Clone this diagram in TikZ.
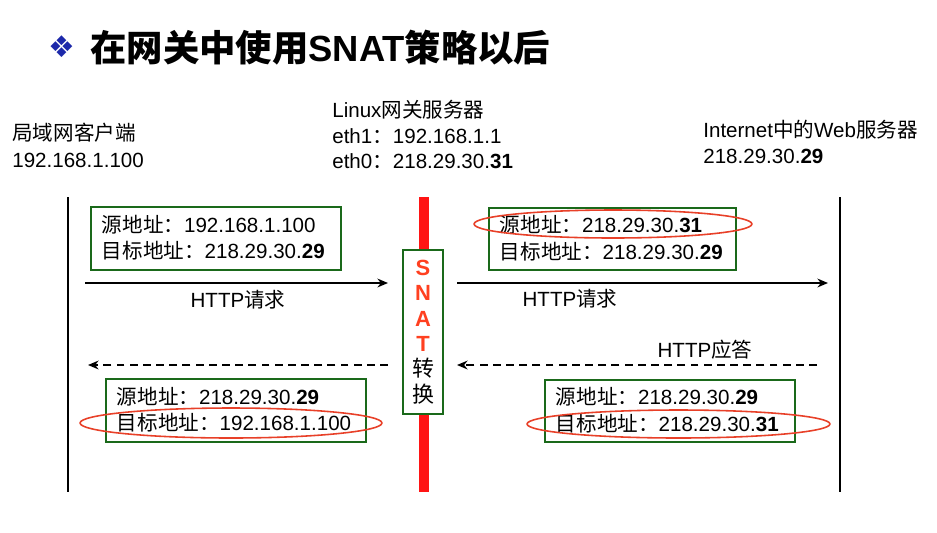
\documentclass[tikz,border=0pt]{standalone}
\usepackage{fontspec}
\setmainfont{Liberation Sans}
\newfontfamily\cjk{Noto Sans CJK SC}
\newfontfamily\dingfont{DejaVu Sans}
\usetikzlibrary{calc,positioning,arrows.meta}
\definecolor{gwgreen}{RGB}{26,105,26}
\definecolor{gwred}{RGB}{255,20,20}
\definecolor{snatred}{RGB}{255,64,32}
\definecolor{markred}{RGB}{232,64,40}
\definecolor{bulletblue}{RGB}{28,40,170}
\tikzset{
  hostline/.style={draw=black,line width=1.2pt},
  gwbar/.style={draw=gwred,line width=5.7pt},
  boxline/.style={draw=gwgreen,line width=1.1pt,fill=white},
  txt/.style={font=\fontsize{11.7}{14}\selectfont,inner sep=0pt,anchor=base west},
  lbl/.style={font=\fontsize{11.7}{14}\selectfont,inner sep=0pt},
  reqline/.style={draw=black,line width=1.1pt,-{Stealth[length=6pt,width=5pt]}},
  repline/.style={reqline,dash pattern=on 4.5pt off 3pt},
  markline/.style={draw=markred,line width=0.9pt},
}
\newcommand{\zh}[1]{{\cjk #1}}
\newcommand{\sn}[1]{\textcolor{snatred}{\textbf{#1}}}
\newcommand{\abox}[6]{%
  \node[boxline,minimum width=#4,minimum height=1.25cm] (#1) at (#2,#3) {};
  \node[txt] (#1a) at ($(#1.north west)+(11.5,26)$) {#5};
  \node[txt] (#1b) at ($(#1.south west)+(11.5,-12)$) {#6};}
\begin{document}
\begin{tikzpicture}[x=0.02cm,y=-0.02cm]
  \useasboundingbox (0,0) rectangle (937,532);
  \node[font=\dingfont\fontsize{17}{17}\selectfont,text=bulletblue,inner sep=0pt] (bul) at (62,47) {❖};
  \node[font=\fontsize{20.7}{24}\selectfont\bfseries,inner sep=0pt,anchor=base west] (title) at (90,61)
    {\zh{在网关中使用}SNAT\zh{策略以后}};
  \node[txt] (lan1) at (12,140) {\zh{局域网客户端}};
  \node[txt] (lan2) at (12,167) {192.168.1.100};
  \node[txt] (gw1) at (332,117) {Linux\zh{网关服务器}};
  \node[txt] (gw2) at (332,143) {eth1\zh{：}192.168.1.1};
  \node[txt] (gw3) at (332,168) {eth0\zh{：}218.29.30.\textbf{31}};
  \node[txt] (web1) at (703,137) {Internet\zh{中的}Web\zh{服务器}};
  \node[txt] (web2) at (703,163) {218.29.30.\textbf{29}};
  \coordinate (lanT) at (68,197); \coordinate (lanB) at (68,492);
  \coordinate (gwT) at (424,197); \coordinate (gwB) at (424,492);
  \coordinate (webT) at (840,197); \coordinate (webB) at (840,492);
  \draw[hostline] (lanT) -- (lanB);
  \draw[hostline] (webT) -- (webB);
  \draw[gwbar] (gwT) -- (gwB);
  \node[boxline,minimum width=0.8cm,minimum height=3.28cm,inner sep=0pt,align=center,
    font=\fontsize{12.5}{14.4}\selectfont] (snat) at (423,332)
    {\sn{S}\\\sn{N}\\\sn{A}\\\sn{T}\\\zh{转}\\\zh{换}};
  \abox{ba}{216}{238.5}{5cm}{\zh{源地址：}192.168.1.100}{\zh{目标地址：}218.29.30.\textbf{29}}
  \abox{bb}{612.5}{239}{4.94cm}{\zh{源地址：}218.29.30.\textbf{31}}{\zh{目标地址：}218.29.30.\textbf{29}}
  \abox{bc}{236}{410.5}{5.2cm}{\zh{源地址：}218.29.30.\textbf{29}}{\zh{目标地址：}192.168.1.100}
  \abox{bd}{670}{411}{5cm}{\zh{源地址：}218.29.30.\textbf{29}}{\zh{目标地址：}218.29.30.\textbf{31}}
  \coordinate (q1s) at (85,283); \coordinate (q1e) at (388,283);
  \coordinate (q2s) at (457,283); \coordinate (q2e) at (828,283);
  \coordinate (p1s) at (817,365); \coordinate (p1e) at (457,365);
  \coordinate (p2s) at (388,365); \coordinate (p2e) at (88,365);
  \draw[reqline] (q1s) -- (q1e);
  \draw[reqline] (q2s) -- (q2e);
  \draw[repline] (p1s) -- (p1e);
  \draw[repline] (p2s) -- (p2e);
  \node[lbl] (q1l) at (238,300) {HTTP\zh{请求}};
  \node[lbl] (q2l) at (570,299) {HTTP\zh{请求}};
  \node[lbl] (p1l) at (705,350) {HTTP\zh{应答}};
  \draw[markline] (613,224) ellipse [x radius=2.78cm,y radius=0.28cm];
  \draw[markline] (231,423) ellipse [x radius=3.02cm,y radius=0.3cm];
  \draw[markline] (678.5,424) ellipse [x radius=3.03cm,y radius=0.28cm];
\end{tikzpicture}
\end{document}
